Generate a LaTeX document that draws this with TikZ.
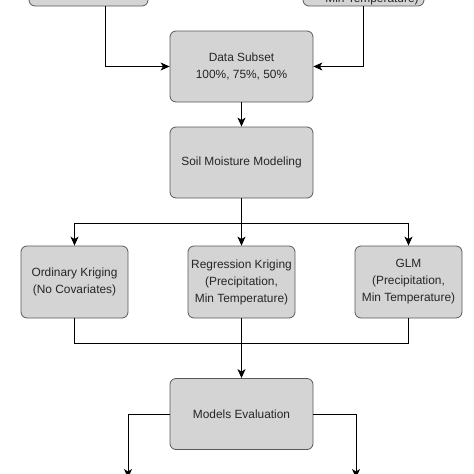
\documentclass[tikz,border=0pt]{standalone}
\usepackage{fontspec}
\setmainfont{Liberation Sans}
\usetikzlibrary{arrows.meta,calc}

\begin{document}
\begin{tikzpicture}[x=1pt,y=-1pt,
    box/.style={draw=black!65,fill=black!17,rounded corners=6pt,line width=0.8pt,
      align=center,inner sep=0pt,text=black!85,font=\fontsize{11.9}{17}\selectfont},
    wide/.style={box,minimum width=143pt,minimum height=71pt},
    small/.style={box,minimum width=107pt,minimum height=72pt},
    flow/.style={line width=1pt,-{Stealth[length=9pt,width=8pt,inset=2.5pt]}}]
      \clip (0,0) rectangle (474,474);
      \useasboundingbox (0,0) rectangle (474,474);

      % inputs, only their bottom edge is shown
      \node[box,minimum width=119pt,minimum height=40pt] (src1) at (88.5,-14) {};
      \node[box,minimum width=121pt,minimum height=40pt] (src2) at (363.5,-14) {};
      \node[anchor=base,font=\fontsize{11.9}{17}\selectfont,text=black!85] (src2txt) at (372,2) {Min Temperature)};

      \node[wide] (subset) at (241.5,66.5) {Data Subset\\100\%, 75\%, 50\%};
      \node[wide] (soil) at (241.5,162.5) {Soil Moisture Modeling};

      \node[small] (ok) at (74.5,282) {Ordinary Kriging\\(No Covariates)};
      \node[small] (rk) at (241.5,282) {Regression Kriging\\(Precipitation,\\Min Temperature)};
      \node[small] (glm) at (408.5,282) {GLM\\(Precipitation,\\Min Temperature)};

      \node[wide] (eval) at (241.5,414) {Models Evaluation};

      \coordinate (split) at ($(soil.south)+(0,25)$);
      \coordinate (merge) at ($(rk.south)+(0,25)$);
      \coordinate (out1) at (128,478);
      \coordinate (out2) at (356,478);

      \draw[flow] ([xshift=16.5pt]src1.south) |- (subset.west);
      \draw[flow] (src2.south) |- (subset.east);
      \draw[flow] (subset) -- (soil);

      \draw[line width=1pt] (soil.south) -- (split);
      \draw[flow] (split) -| (ok.north);
      \draw[flow] (split) -- (rk.north);
      \draw[flow] (split) -| (glm.north);

      \draw[line width=1pt] (ok.south) |- (merge) -| (glm.south);
      \draw[flow] (rk.south) -- (eval.north);

      \draw[flow] (eval.west) -| (out1);
      \draw[flow] (eval.east) -| (out2);
\end{tikzpicture}
\end{document}
